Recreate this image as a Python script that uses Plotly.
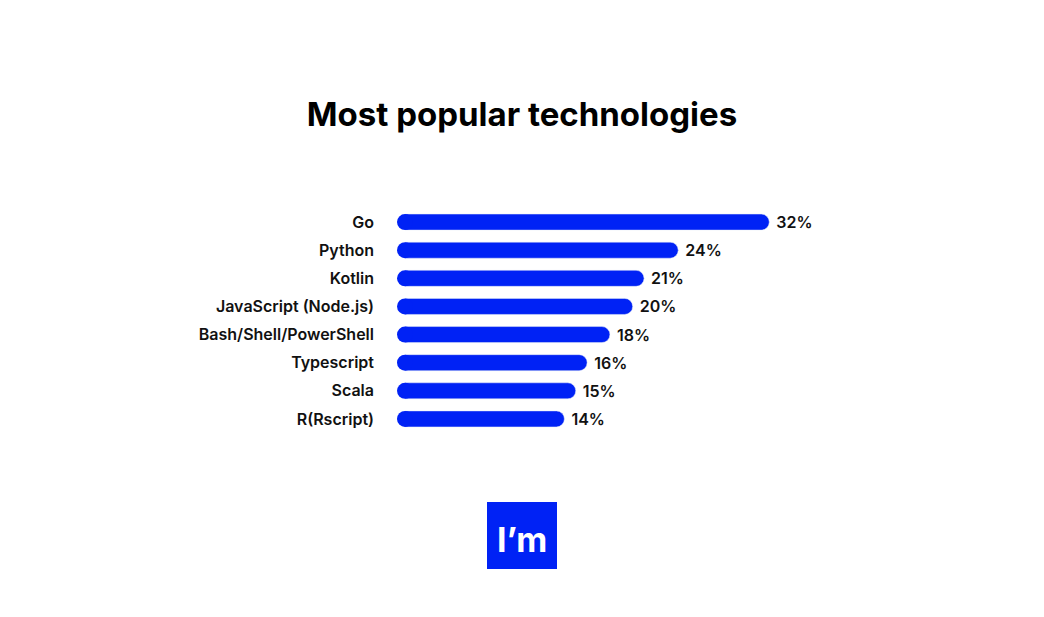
import plotly.graph_objects as go

techs = ["Go", "Python", "Kotlin", "JavaScript (Node.js)", "Bash/Shell/PowerShell",
         "Typescript", "Scala", "R(Rscript)"]
shares = [32, 24, 21, 20, 18, 16, 15, 14]
labels = [f" {v}%" for v in shares]

W, H = 1044, 617
dx, dy = 8, 7  # page offset of the rendered figure


def px_x(x):
    return (x - dx) / W


def px_y(y):
    return 1 - (y - dy) / H


blue = "#0022f5"

fig = go.Figure()
fig.add_trace(go.Bar(
    x=shares, y=techs, orientation="h",
    marker=dict(color=blue, cornerradius=8),
    text=labels, textposition="outside", cliponaxis=False, constraintext="none",
    textfont=dict(family="Inter", size=16, color="#111", weight=600),
))
# round the left ends of the bars
fig.add_trace(go.Scatter(
    x=[0] * len(techs), y=techs, mode="markers", cliponaxis=False,
    marker=dict(color=blue, size=16, symbol="circle", line_width=0),
))

fig.update_layout(
    width=W, height=H,
    paper_bgcolor="white", plot_bgcolor="white",
    margin=dict(l=0, r=0, t=0, b=0),
    showlegend=False, bargap=0.43,
    title=dict(text="Most popular technologies", x=px_x(522), xanchor="center",
               y=px_y(113), yanchor="middle",
               font=dict(family="Inter", size=33, color="#000", weight=700)),
    xaxis=dict(domain=[px_x(405), 0.98], range=[0, 55], visible=False),
    yaxis=dict(domain=[px_y(432), px_y(207)], range=[len(techs) - 0.5, -0.5],
               showgrid=False, ticks="", ticklabelstandoff=30,
               tickfont=dict(family="Inter", size=16, color="#111", weight=600)),
)

fig.add_shape(type="rect", xref="paper", yref="paper",
              x0=px_x(487), x1=px_x(557), y0=px_y(568), y1=px_y(501),
              fillcolor=blue, line_width=0)
fig.add_annotation(text="I’m", xref="paper", yref="paper",
                   x=px_x(522), y=px_y(538), xanchor="center", yanchor="middle",
                   showarrow=False,
                   font=dict(family="Inter", size=34, color="white", weight=700))

fig.write_html("out.html")
